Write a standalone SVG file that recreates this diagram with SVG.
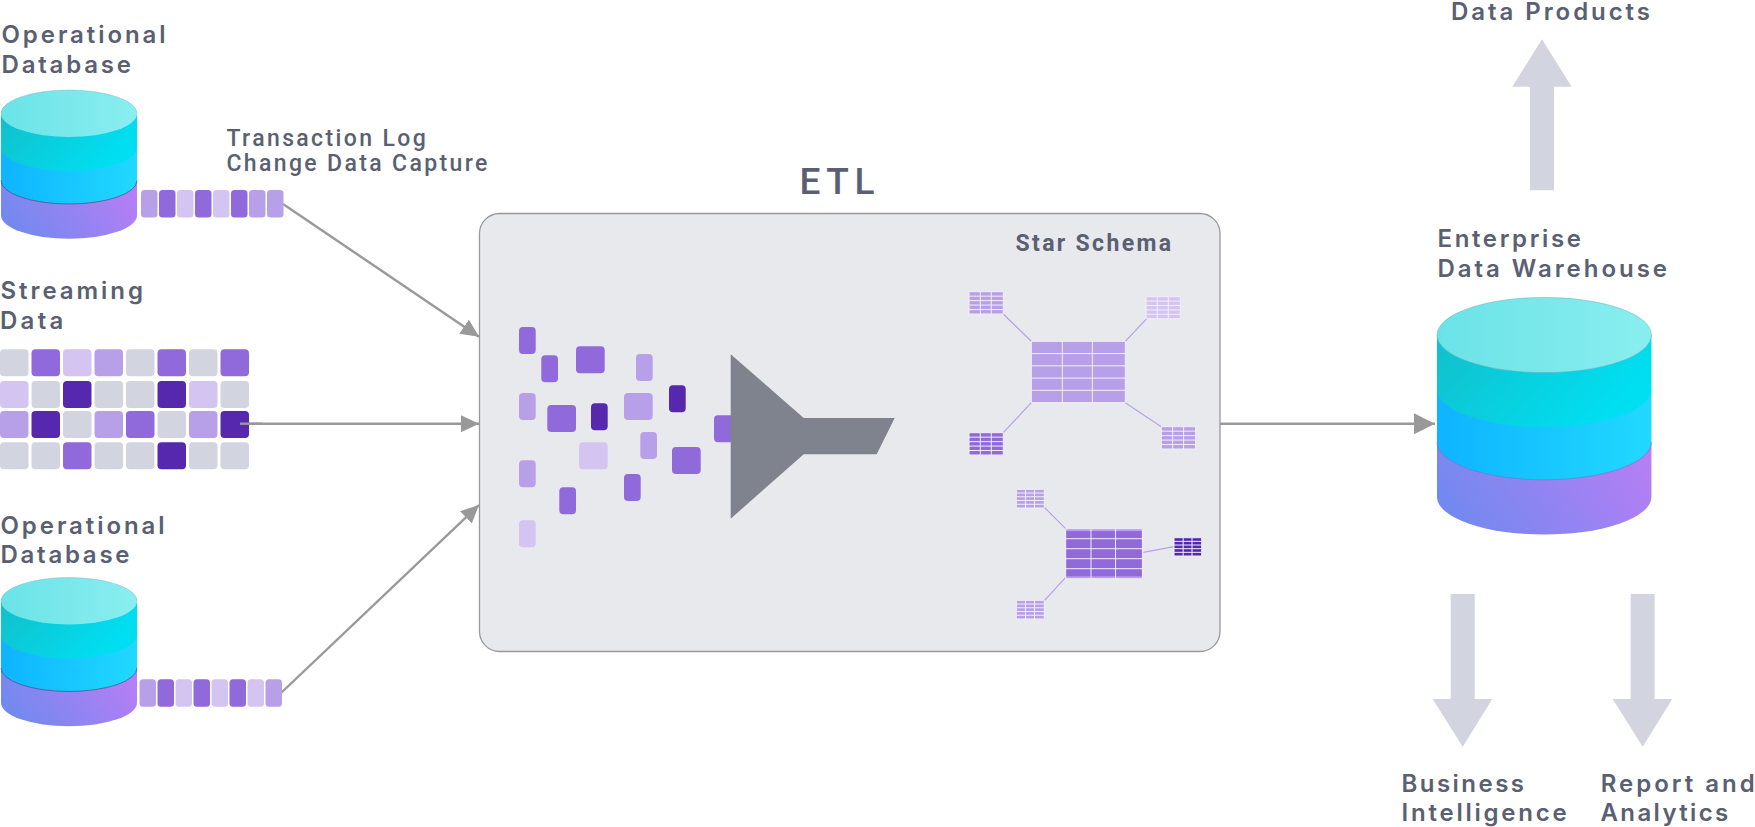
<svg xmlns="http://www.w3.org/2000/svg" width="1755" height="827" viewBox="0 0 1755 827">
<style>
.lbl{font-family:"Inter","Open Sans","Liberation Sans",sans-serif;font-weight:600;font-size:24px;fill:#5a6072}
.rb{font-family:"Roboto","Liberation Sans",sans-serif;font-weight:500;font-size:23px;fill:#5a6072}
.G{fill:#d2d5df}.V{fill:#d4c4f1}.L{fill:#b8a0e8}.M{fill:#9069db}.D{fill:#5628ae}
.conn{fill:none;stroke:#999;stroke-width:2.4}
.thin{fill:none;stroke:#b8a0e8;stroke-width:1.2}
.block{fill:#d2d5df}
.grid{fill:none;stroke:#f1eff9;stroke-width:1;vector-effect:non-scaling-stroke}
</style>
<defs>
<linearGradient id="gTop" x1="0" x2="1" y1="0" y2="0"><stop offset="0" stop-color="#6ae3e8"/><stop offset="1" stop-color="#8aeeef"/></linearGradient>
<linearGradient id="gTeal" x1="0" x2="1" y1="0" y2="0.4"><stop offset="0" stop-color="#12bfca"/><stop offset="1" stop-color="#00dff2"/></linearGradient>
<linearGradient id="gBlue" x1="0" x2="1" y1="0" y2="0"><stop offset="0" stop-color="#0eb4ff"/><stop offset="1" stop-color="#20d9ff"/></linearGradient>
<linearGradient id="gPurple" x1="0" x2="1" y1="0.5" y2="0.2"><stop offset="0" stop-color="#7389ef"/><stop offset="1" stop-color="#b77ef5"/></linearGradient>
<g id="cyl">
<path d="M0 67V101.7A68 23.5 0 0 0 136 101.7V67Z" fill="url(#gPurple)"/>
<path d="M0 34V67A68 23.5 0 0 0 136 67V34Z" fill="url(#gBlue)"/>
<path class="rim" d="M0 67A68 23.5 0 0 0 136 67" fill="none" stroke="#4a4f78" stroke-width="0.7"/>
<path d="M0 0V34A68 23.5 0 0 0 136 34V0Z" fill="url(#gTeal)"/>
<ellipse cx="68" cy="0" rx="68" ry="23.5" fill="url(#gTop)"/>
<path d="M0 0A68 23.5 0 0 1 136 0" fill="none" stroke="#7aa8b0" stroke-width="0.4"/>
</g>
<g id="cylBig">
<path d="M0 67V101.2A68 23.5 0 0 0 136 101.2V67Z" fill="url(#gPurple)"/>
<path d="M0 34V67A68 23.5 0 0 0 136 67V34Z" fill="url(#gBlue)"/>
<path d="M0 67A68 23.5 0 0 0 136 67" fill="none" stroke="#6a7cc0" stroke-width="0.4"/>
<path d="M0 0V34A68 23.5 0 0 0 136 34V0Z" fill="url(#gTeal)"/>
<ellipse cx="68" cy="0" rx="68" ry="23.5" fill="url(#gTop)"/>
<ellipse cx="68" cy="0" rx="68" ry="23.5" fill="none" stroke="#6aa8b0" stroke-width="0.3"/>
</g>
<path id="grid" class="grid" d="M0 0H100V100H0ZM33 0V100M65 0V100M0 20H100M0 40H100M0 60H100M0 80H100"/>
<marker id="ah" markerUnits="userSpaceOnUse" markerWidth="19" markerHeight="18" refX="18" refY="8.5" orient="auto"><path d="M0 0L18 8.5L0 17Z" fill="#999"/></marker>
<marker id="ahb" markerUnits="userSpaceOnUse" markerWidth="22" markerHeight="22" refX="21" refY="10.5" orient="auto"><path d="M0 0L21 10.5L0 21Z" fill="#999"/></marker>
</defs>
<rect width="1755" height="827" fill="#fff"/>

<g id="connectors">
<path class="conn" d="M283 204L479 336.7" marker-end="url(#ah)"/>
<path class="conn" d="M240 423.7H479" marker-end="url(#ah)"/>
<path class="conn" d="M281 693L479 505" marker-end="url(#ah)"/>
<path class="conn" d="M1220 423.7H1435" marker-end="url(#ahb)"/>
</g>

<g id="db1">
<text class="lbl" x="1.5" y="42.7" textLength="164">Operational</text>
<text class="lbl" x="1.5" y="72.7" textLength="129.5">Database</text>
<use href="#cyl" transform="translate(1 113.5)"/>
<rect class="L" x="141" y="190" width="16.5" height="27.5" rx="3.5"/>
<rect class="M" x="159" y="190" width="16.5" height="27.5" rx="3.5"/>
<rect class="V" x="177" y="190" width="16.5" height="27.5" rx="3.5"/>
<rect class="M" x="195" y="190" width="16.5" height="27.5" rx="3.5"/>
<rect class="V" x="213" y="190" width="16.5" height="27.5" rx="3.5"/>
<rect class="M" x="231" y="190" width="16.5" height="27.5" rx="3.5"/>
<rect class="L" x="249" y="190" width="16.5" height="27.5" rx="3.5"/>
<rect class="L" x="267" y="190" width="16.5" height="27.5" rx="3.5"/>
</g>
<g id="cdc-label">
<text class="rb" x="226.5" y="146" textLength="199.2">Transaction Log</text>
<text class="rb" x="226.5" y="171" textLength="260.8">Change Data Capture</text>
</g>

<g id="streaming">
<text class="lbl" x="0.5" y="299" textLength="142.5">Streaming</text>
<text class="lbl" x="0" y="329" textLength="63.3">Data</text>
<g>
<rect class="G" x="0" y="349.3" width="28.5" height="27" rx="4"/><rect class="M" x="31.5" y="349.3" width="28.5" height="27" rx="4"/><rect class="V" x="63" y="349.3" width="28.5" height="27" rx="4"/><rect class="L" x="94.5" y="349.3" width="28.5" height="27" rx="4"/><rect class="G" x="126" y="349.3" width="28.5" height="27" rx="4"/><rect class="M" x="157.5" y="349.3" width="28.5" height="27" rx="4"/><rect class="G" x="189" y="349.3" width="28.5" height="27" rx="4"/><rect class="M" x="220.5" y="349.3" width="28.5" height="27" rx="4"/>
<rect class="V" x="0" y="381" width="28.5" height="27" rx="4"/><rect class="G" x="31.5" y="381" width="28.5" height="27" rx="4"/><rect class="D" x="63" y="381" width="28.5" height="27" rx="4"/><rect class="G" x="94.5" y="381" width="28.5" height="27" rx="4"/><rect class="G" x="126" y="381" width="28.5" height="27" rx="4"/><rect class="D" x="157.5" y="381" width="28.5" height="27" rx="4"/><rect class="V" x="189" y="381" width="28.5" height="27" rx="4"/><rect class="G" x="220.5" y="381" width="28.5" height="27" rx="4"/>
<rect class="L" x="0" y="411" width="28.5" height="27" rx="4"/><rect class="D" x="31.5" y="411" width="28.5" height="27" rx="4"/><rect class="G" x="63" y="411" width="28.5" height="27" rx="4"/><rect class="L" x="94.5" y="411" width="28.5" height="27" rx="4"/><rect class="M" x="126" y="411" width="28.5" height="27" rx="4"/><rect class="G" x="157.5" y="411" width="28.5" height="27" rx="4"/><rect class="L" x="189" y="411" width="28.5" height="27" rx="4"/><rect class="D" x="220.5" y="411" width="28.5" height="27" rx="4"/>
<rect class="G" x="0" y="442.3" width="28.5" height="27" rx="4"/><rect class="G" x="31.5" y="442.3" width="28.5" height="27" rx="4"/><rect class="M" x="63" y="442.3" width="28.5" height="27" rx="4"/><rect class="G" x="94.5" y="442.3" width="28.5" height="27" rx="4"/><rect class="G" x="126" y="442.3" width="28.5" height="27" rx="4"/><rect class="D" x="157.5" y="442.3" width="28.5" height="27" rx="4"/><rect class="G" x="189" y="442.3" width="28.5" height="27" rx="4"/><rect class="G" x="220.5" y="442.3" width="28.5" height="27" rx="4"/>
</g>
<path d="M240 423.7H262" fill="none" stroke="#999" stroke-width="2.4"/>
</g>

<g id="db2">
<text class="lbl" x="0.5" y="534" textLength="164">Operational</text>
<text class="lbl" x="0.5" y="563.3" textLength="129">Database</text>
<use href="#cyl" transform="translate(1 601)"/>
<rect class="L" x="139.5" y="679.3" width="16.5" height="27.5" rx="3.5"/>
<rect class="M" x="157.5" y="679.3" width="16.5" height="27.5" rx="3.5"/>
<rect class="V" x="175.5" y="679.3" width="16.5" height="27.5" rx="3.5"/>
<rect class="M" x="193.5" y="679.3" width="16.5" height="27.5" rx="3.5"/>
<rect class="V" x="211.5" y="679.3" width="16.5" height="27.5" rx="3.5"/>
<rect class="M" x="229.5" y="679.3" width="16.5" height="27.5" rx="3.5"/>
<rect class="V" x="247.5" y="679.3" width="16.5" height="27.5" rx="3.5"/>
<rect class="L" x="265.5" y="679.3" width="16.5" height="27.5" rx="3.5"/>
</g>

<g id="etl">
<text x="799.5" y="194.3" textLength="75" style="font-family:'Roboto','Liberation Sans',sans-serif;font-weight:500;font-size:37px;fill:#5a6072">ETL</text>
<rect x="479.5" y="213.5" width="740.5" height="438" rx="20" fill="#e8e9ed" stroke="#999" stroke-width="1.3"/>
<g id="particles">
<rect class="M" x="519" y="327" width="16.7" height="27" rx="4"/>
<rect class="M" x="541.3" y="355.3" width="16.7" height="27" rx="4"/>
<rect class="M" x="576" y="346.3" width="28.7" height="27" rx="4"/>
<rect class="L" x="636" y="354" width="16.7" height="27" rx="4"/>
<rect class="L" x="519" y="393" width="16.7" height="27" rx="4"/>
<rect class="M" x="547.3" y="405" width="28.7" height="27" rx="4"/>
<rect class="D" x="591" y="403.3" width="16.7" height="27" rx="4"/>
<rect class="L" x="624" y="393" width="28.7" height="27" rx="4"/>
<rect class="D" x="669" y="385.3" width="16.7" height="27" rx="4"/>
<rect class="M" x="714" y="415.3" width="20" height="27" rx="4"/>
<rect class="V" x="579" y="442.3" width="28.7" height="27" rx="4"/>
<rect class="L" x="640.3" y="432" width="16.7" height="27" rx="4"/>
<rect class="M" x="672" y="447" width="28.7" height="27" rx="4"/>
<rect class="L" x="519" y="460.3" width="16.7" height="27" rx="4"/>
<rect class="M" x="559.3" y="487.3" width="16.7" height="27" rx="4"/>
<rect class="M" x="624" y="474" width="16.7" height="27" rx="4"/>
<rect class="V" x="519" y="520.3" width="16.7" height="27" rx="4"/>
</g>
<path id="funnel" d="M730.7 354.3L803.7 418H894.7L876.7 454.3H803.7L730.7 518.7Z" fill="#7f838d"/>
</g>

<g id="star-schema-1">
<text x="1015.5" y="250.7" textLength="155.5" style="font-family:'Roboto','Liberation Sans',sans-serif;font-weight:700;font-size:23px;fill:#5a6072">Star Schema</text>
<path class="thin" d="M1003.3 314L1031.3 341.3M1146.7 318.7L1125.3 341.3M1031.3 402.7L1003.3 432.7M1125.3 402.7L1161.3 426.7"/>
<rect class="L" x="1031.3" y="341.3" width="94" height="61.3"/><use href="#grid" transform="translate(1031.3 341.3) scale(.94 .613)"/>
<rect class="L" x="969" y="291.7" width="34.3" height="22.3"/><use href="#grid" transform="translate(969 291.7) scale(.343 .223)"/>
<rect class="V" x="1146" y="296.7" width="34.3" height="22"/><use href="#grid" transform="translate(1146 296.7) scale(.343 .22)"/>
<rect class="M" x="969" y="432.7" width="34.3" height="22.3"/><use href="#grid" transform="translate(969 432.7) scale(.343 .223)"/>
<rect class="L" x="1161.3" y="426.7" width="34.3" height="22.3"/><use href="#grid" transform="translate(1161.3 426.7) scale(.343 .223)"/>
</g>

<g id="star-schema-2">
<path class="thin" d="M1044.3 507.3L1065.7 528.7M1065.7 577.3L1044.3 600.7M1143.3 552.3L1174 546.7"/>
<rect class="M" x="1065.7" y="528.7" width="76.7" height="50"/>
<rect class="L" x="1065.7" y="528.7" width="76.7" height="2.4"/>
<rect class="L" x="1065.7" y="576.3" width="76.7" height="2.4"/>
<use href="#grid" transform="translate(1065.7 528.7) scale(.767 .5)"/>
<rect class="L" x="1016.3" y="489.3" width="28" height="18.7"/><use href="#grid" transform="translate(1016.3 489.3) scale(.28 .187)"/>
<rect class="L" x="1016.3" y="600.3" width="28" height="18.7"/><use href="#grid" transform="translate(1016.3 600.3) scale(.28 .187)"/>
<rect class="D" x="1174" y="537.7" width="27.7" height="18.3"/><use href="#grid" transform="translate(1174 537.7) scale(.277 .183)"/>
</g>

<g id="edw">
<text class="lbl" x="1437.5" y="247.3" textLength="143.5">Enterprise</text>
<text class="lbl" x="1437.5" y="276.7" textLength="229.5">Data Warehouse</text>
<use href="#cylBig" transform="translate(1437 335) scale(1.5765 1.6)"/>
</g>

<g id="data-products">
<text class="lbl" x="1451" y="20" textLength="199">Data Products</text>
<path class="block" d="M1542 39.3L1571.7 86.7H1554V190.3H1530V86.7H1512.3Z"/>
</g>
<g id="business-intelligence">
<path class="block" d="M1450.7 594H1474.7V699H1492.3L1462.7 746.7L1432.7 699H1450.7Z"/>
<text class="lbl" x="1401.5" y="792.3" textLength="122.5">Business</text>
<text class="lbl" x="1401.5" y="821" textLength="165.2">Intelligence</text>
</g>
<g id="report-analytics">
<path class="block" d="M1630.7 594H1654.7V699H1672.3L1642.7 746.7L1612.7 699H1630.7Z"/>
<text class="lbl" x="1600.7" y="792.3" textLength="154">Report and</text>
<text class="lbl" x="1600.5" y="821" textLength="127.8">Analytics</text>
</g>
</svg>
